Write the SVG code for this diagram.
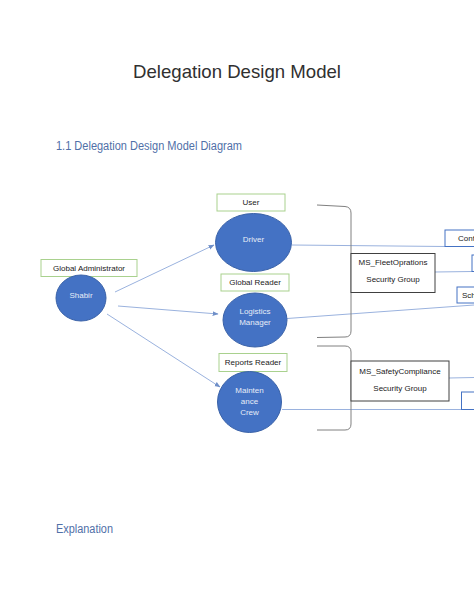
<svg xmlns="http://www.w3.org/2000/svg" width="474" height="613" viewBox="0 0 474 613">
<style>
.title{font-family:"Liberation Sans",Arial,sans-serif;font-size:19px;fill:#303030}
.head{font-family:"Liberation Sans",Arial,sans-serif;font-size:12px;fill:#5070a8}
.lbl{font-family:"Liberation Sans",Arial,sans-serif;font-size:8px;fill:#1a1a1a;text-anchor:middle;dominant-baseline:central}
.in{font-family:"Liberation Sans",Arial,sans-serif;font-size:8px;fill:#e6ecf7;text-anchor:middle;dominant-baseline:central}
.role{fill:#fff;stroke:#a9d18e;stroke-width:1}
.node{fill:#4472c4;stroke:#3a62a8;stroke-width:1}
.grp{fill:#fff;stroke:#404040;stroke-width:1}
.ext{fill:#fff;stroke:#4472c4;stroke-width:1}
.conn{stroke:#9ab2de;stroke-width:1;fill:none}
.br{stroke:#808080;stroke-width:1;fill:none}
</style>
<defs>
<marker id="ah" viewBox="0 0 10 10" refX="9" refY="5" markerWidth="6" markerHeight="6" orient="auto">
<path d="M0,1 L10,5 L0,9 z" fill="#6f8fc8"/>
</marker>
</defs>
<rect width="474" height="613" fill="#fff"/>
<text class="title" x="133" y="78" textLength="208" lengthAdjust="spacingAndGlyphs">Delegation Design Model</text>
<text class="head" x="56" y="149.5" textLength="186" lengthAdjust="spacingAndGlyphs">1.1 Delegation Design Model Diagram</text>
<text class="head" x="56" y="533" textLength="57" lengthAdjust="spacingAndGlyphs">Explanation</text>

<g id="connectors">
<line class="conn" x1="115" y1="292" x2="214" y2="245" marker-end="url(#ah)"/>
<line class="conn" x1="118" y1="306" x2="218" y2="314" marker-end="url(#ah)"/>
<line class="conn" x1="107" y1="314" x2="220" y2="387" marker-end="url(#ah)"/>
<line class="conn" x1="292" y1="245" x2="445" y2="246.5"/>
<line class="conn" x1="435" y1="272" x2="472" y2="271.5"/>
<line class="conn" x1="287" y1="318.5" x2="474" y2="305"/>
<line class="conn" x1="449" y1="378" x2="474" y2="377.5"/>
<line class="conn" x1="282" y1="409.5" x2="462" y2="409.5"/>
<path class="br" d="M317,205 L345,206.5 Q351,207 351,213 L351,331 Q351,337 345,337 L317,337.5"/>
<path class="br" d="M317,346 L345,346 Q351,346 351,352 L351,424 Q351,430 345,430 L317,430"/>
</g>

<g id="global-admin">
<rect class="role" x="41" y="259.5" width="96" height="17"/>
<text class="lbl" x="89" y="268">Global Administrator</text>
</g>
<g id="shabir">
<ellipse class="node" cx="81" cy="298" rx="25" ry="23"/>
<text class="in" x="81" y="295">Shabir</text>
</g>
<g id="user">
<rect class="role" x="217" y="194" width="68" height="17"/>
<text class="lbl" x="251" y="202.5">User</text>
</g>
<g id="driver">
<ellipse class="node" cx="253.5" cy="242.5" rx="38" ry="29"/>
<text class="in" x="253.5" y="239.5">Driver</text>
</g>
<g id="global-reader">
<rect class="role" x="221" y="274" width="68" height="17"/>
<text class="lbl" x="255" y="282.5">Global Reader</text>
</g>
<g id="logistics-manager">
<ellipse class="node" cx="255" cy="320" rx="32" ry="27"/>
<text class="in" x="255" y="311">Logistics</text>
<text class="in" x="255" y="322">Manager</text>
</g>
<g id="reports-reader">
<rect class="role" x="219" y="353.5" width="68" height="18"/>
<text class="lbl" x="253" y="362.5">Reports Reader</text>
</g>
<g id="maintenance-crew">
<ellipse class="node" cx="249.5" cy="402" rx="32" ry="30.5"/>
<text class="in" x="249.5" y="390">Mainten</text>
<text class="in" x="249.5" y="401">ance</text>
<text class="in" x="249.5" y="412">Crew</text>
</g>
<g id="ms-fleet">
<rect class="grp" x="351" y="253.5" width="84" height="39"/>
<text class="lbl" x="393" y="262.5">MS_FleetOprations</text>
<text class="lbl" x="393" y="279.5">Security Group</text>
</g>
<g id="ms-safety">
<rect class="grp" x="351" y="361" width="98" height="40"/>
<text class="lbl" x="400" y="371">MS_SafetyCompliance</text>
<text class="lbl" x="400" y="388.5">Security Group</text>
</g>
<g id="ext-cont">
<rect class="ext" x="445" y="230" width="40" height="16.5"/>
<text class="lbl" x="458" y="238.5" style="text-anchor:start">Cont</text>
</g>
<g id="ext-2">
<rect class="ext" x="472" y="255" width="20" height="16.5"/>
</g>
<g id="ext-sch">
<rect class="ext" x="457" y="287" width="30" height="16"/>
<text class="lbl" x="462" y="295.5" style="text-anchor:start">Sch</text>
</g>
<g id="ext-4">
<rect class="ext" x="461.5" y="392" width="20" height="17.5"/>
</g>
</svg>
